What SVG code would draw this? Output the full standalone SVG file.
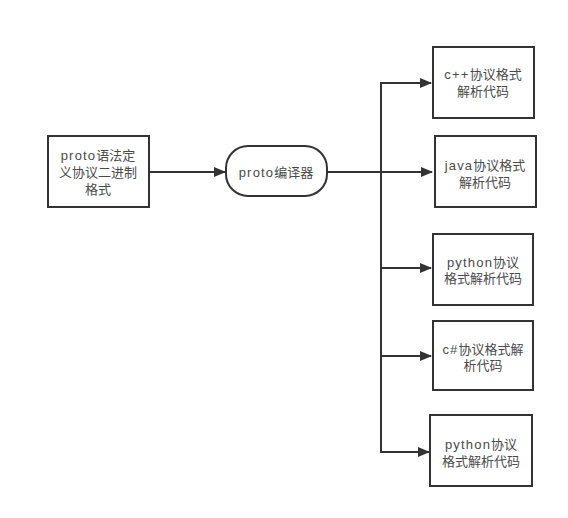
<svg xmlns="http://www.w3.org/2000/svg" width="568" height="518" viewBox="0 0 568 518">
<style>
.box{fill:#fff;stroke:#333;stroke-width:2}
.conn{fill:none;stroke:#333;stroke-width:2}
text{font-family:"Liberation Sans","Noto Sans CJK SC",sans-serif;font-size:13px;fill:#4a4a4a;text-anchor:middle}
.lat{letter-spacing:1.2px}
</style>
<defs>
<marker id="arr" markerWidth="12" markerHeight="10" refX="11" refY="5" orient="auto" markerUnits="userSpaceOnUse">
<path d="M0,0 L12,5 L0,10 Z" fill="#333"/>
</marker>
</defs>
<rect width="568" height="518" fill="#fff"/>
<g id="connectors">
<line class="conn" x1="149" y1="172" x2="225" y2="172" marker-end="url(#arr)"/>
<line class="conn" x1="327" y1="172" x2="432" y2="172" marker-end="url(#arr)"/>
<polyline class="conn" points="381,172 381,83 431,83" marker-end="url(#arr)"/>
<polyline class="conn" points="381,172 381,452 429,452" marker-end="url(#arr)"/>
<line class="conn" x1="381" y1="268" x2="431" y2="268" marker-end="url(#arr)"/>
<line class="conn" x1="381" y1="356" x2="431" y2="356" marker-end="url(#arr)"/>
</g>
<g id="n-proto-def">
<rect class="box" x="48" y="136" width="101" height="71"/>
<text x="98" y="160"><tspan x="98"><tspan class="lat">proto</tspan>语法定</tspan><tspan x="98" dy="17">义协议二进制</tspan><tspan x="98" dy="17">格式</tspan></text>
</g>
<g id="n-compiler">
<rect class="box" x="226" y="146" width="101" height="50" rx="22" ry="22"/>
<text x="276" y="177"><tspan class="lat">proto</tspan>编译器</text>
</g>
<g id="n-cpp">
<rect class="box" x="433" y="47" width="101" height="71"/>
<text x="483" y="79"><tspan x="483"><tspan class="lat">c++</tspan>协议格式</tspan><tspan x="483" dy="17">解析代码</tspan></text>
</g>
<g id="n-java">
<rect class="box" x="435" y="136" width="101" height="71"/>
<text x="485" y="170"><tspan x="485"><tspan class="lat">java</tspan>协议格式</tspan><tspan x="485" dy="17">解析代码</tspan></text>
</g>
<g id="n-python1">
<rect class="box" x="433" y="234" width="100" height="71"/>
<text x="483" y="267"><tspan x="483"><tspan class="lat">python</tspan>协议</tspan><tspan x="483" dy="16">格式解析代码</tspan></text>
</g>
<g id="n-csharp">
<rect class="box" x="433" y="321" width="100" height="69"/>
<text x="483" y="354"><tspan x="483"><tspan class="lat">c#</tspan>协议格式解</tspan><tspan x="483" dy="16">析代码</tspan></text>
</g>
<g id="n-python2">
<rect class="box" x="430" y="415" width="102" height="71"/>
<text x="481" y="449"><tspan x="481"><tspan class="lat">python</tspan>协议</tspan><tspan x="481" dy="17">格式解析代码</tspan></text>
</g>
</svg>
